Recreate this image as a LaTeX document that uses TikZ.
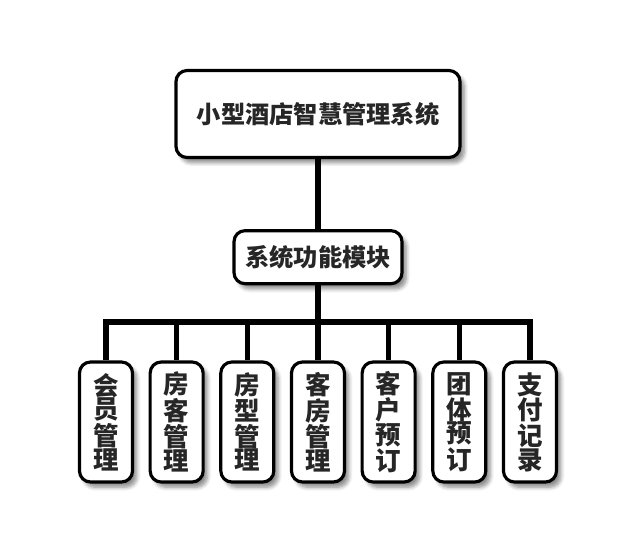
\documentclass[tikz,border=0pt]{standalone}
\usepackage{fontspec}
\setmainfont{Noto Sans CJK SC}
\usetikzlibrary{positioning, shadows.blur}

\begin{document}
\begin{tikzpicture}[node distance=0.29cm,
    box/.style={draw, line width=1.8pt, rounded corners=0.22cm, fill=white,
                text=black!85, font=\bfseries,
                blur shadow={shadow xshift=2.5pt, shadow yshift=-3pt,
                             shadow blur steps=6, shadow opacity=45}},
    modbox/.style={box, minimum width=1.06cm, minimum height=2.4cm,
                   inner sep=0pt, align=center,
                   font=\bfseries\fontsize{14.5pt}{13.4pt}\selectfont},
    link/.style={line width=3pt}]
  \useasboundingbox (0,0) rectangle (12.7,-11.16);

  \node[box, minimum width=5.68cm, minimum height=1.74cm,
        font=\bfseries\fontsize{13.8pt}{16pt}\selectfont] (sys) at (6.36,-2.28)
    {小型酒店智慧管理系统};
  \node[box, minimum width=3.36cm, minimum height=1.06cm,
        font=\bfseries\fontsize{13.8pt}{16pt}\selectfont,
        below=1.40cm of sys] (mods) {系统功能模块};

  \node[modbox] (member) at (2.12,-8.44) {会\\员\\管\\理};
  \node[modbox, right=of member] (guest) {房\\客\\管\\理};
  \node[modbox, right=of guest] (rtype) {房\\型\\管\\理};
  \node[modbox, right=of rtype] (room) {客\\房\\管\\理};
  \node[modbox, right=of room] (cbook) {客\\户\\预\\订};
  \node[modbox, right=of cbook] (gbook) {团\\体\\预\\订};
  \node[modbox, right=of gbook] (pay) {支\\付\\记\\录};

  \coordinate (bar) at (6.36,-6.44);

  \draw[link] (sys) -- (mods);
  \draw[link] (mods) -- (bar);
  \foreach \m in {member, guest, rtype, room, cbook, gbook, pay}
    \draw[link] (bar) -| (\m.north);
\end{tikzpicture}
\end{document}
